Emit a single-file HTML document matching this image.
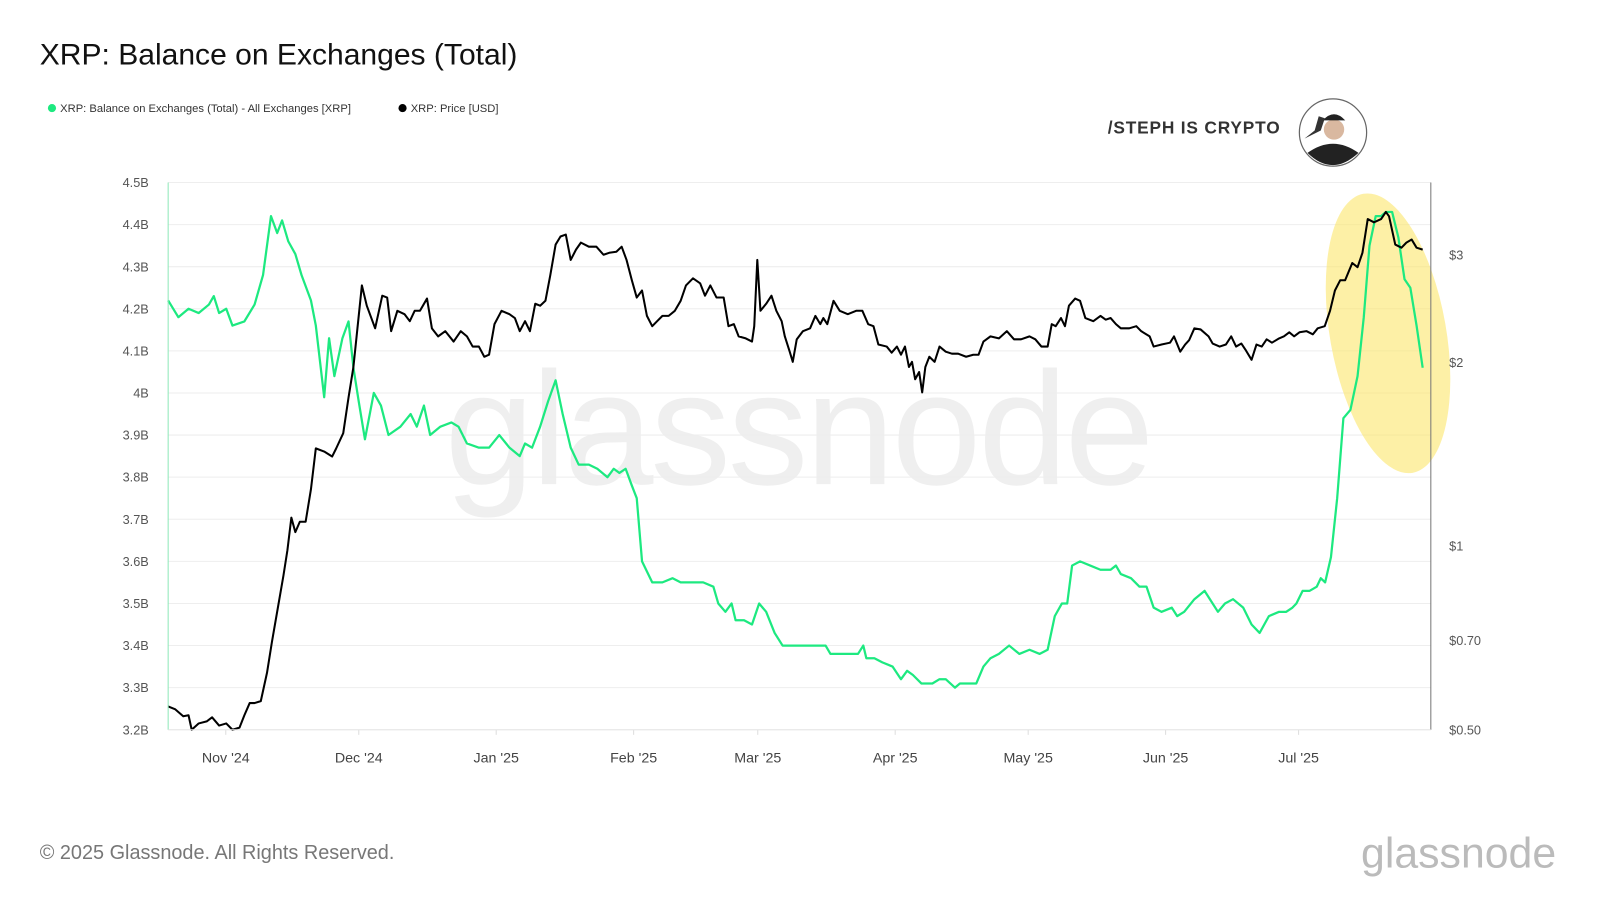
<!DOCTYPE html>
<html><head><meta charset="utf-8"><title>XRP: Balance on Exchanges (Total)</title>
<style>html,body{margin:0;padding:0;background:#fff;}svg{display:block;font-family:"Liberation Sans",sans-serif;}</style>
</head><body>
<svg id="chart" width="1600" height="900" viewBox="0 0 1570 883" xmlns="http://www.w3.org/2000/svg">
<rect width="1570" height="883" fill="#fff"/>
<text x="783" y="475" font-size="158" fill="#efefef" text-anchor="middle" letter-spacing="-3">glassnode</text>
<text x="39" y="63" font-size="29.5" fill="#111">XRP: Balance on Exchanges (Total)</text>
<g>
<circle cx="51" cy="106" r="4" fill="#1de980"/>
<text x="59" y="110" font-size="11" fill="#333">XRP: Balance on Exchanges (Total) - All Exchanges [XRP]</text>
<circle cx="395" cy="106" r="4" fill="#000"/>
<text x="403" y="110" font-size="11" fill="#333">XRP: Price [USD]</text>
</g>
<g>
<text x="1087" y="131" font-size="17" font-weight="bold" fill="#333" letter-spacing="0.8">/STEPH IS CRYPTO</text>
<circle cx="1308" cy="130" r="33" fill="#fff" stroke="#666" stroke-width="1.2"/>
<path d="M1283,150 Q1308,132 1333,150 Q1320,162 1308,162 Q1295,162 1283,150Z" fill="#222"/>
<circle cx="1309" cy="127" r="10" fill="#d9b8a0"/>
<path d="M1298,118 Q1309,106 1320,118Z" fill="#222"/>
<path d="M1280,136 L1296,128 L1300,116 L1294,114 L1290,128 Z" fill="#333"/>
</g>
<g id="grid"></g>
<ellipse cx="1362" cy="327" rx="57" ry="139" transform="rotate(-10 1362 327)" fill="#fbe66a" fill-opacity="0.6"/>
<g id="series"></g>
<g id="axes"></g>
<text x="39" y="843" font-size="19.5" fill="#777">© 2025 Glassnode. All Rights Reserved.</text>
<text x="1527" y="851" font-size="42" fill="#bbb" text-anchor="end">glassnode</text>
</svg>
<script>
const xMonthLabels = ["Nov '24","Dec '24","Jan '25","Feb '25","Mar '25","Apr '25","May '25","Jun '25","Jul '25"];
const xMonthDays = [13,43,74,105,133,164,194,225,255];
const leftTicks = [3.2,3.3,3.4,3.5,3.6,3.7,3.8,3.9,4.0,4.1,4.2,4.3,4.4,4.5];
const leftTickLabels = ["3.2B","3.3B","3.4B","3.5B","3.6B","3.7B","3.8B","3.9B","4B","4.1B","4.2B","4.3B","4.4B","4.5B"];
const rightTicks = [0.5,0.7,1,2,3];
const rightTickLabels = ["$0.50","$0.70","$1","$2","$3"];
const balanceDays = [0,2.3,4.6,6.9,9.2,10.3,11.5,13.1,14.5,17.2,19.5,21.4,23.2,24.6,25.7,27.1,28.7,30.1,32.2,33.3,35.2,36.3,37.5,39.3,40.7,41.8,43,44.4,46.4,48,49.7,52.4,54.7,56.1,57.7,59.1,61.4,63.9,65.5,67.4,70.1,72.4,74.7,77,79.3,80.5,82.1,83.9,85.7,87.4,89,90.8,92.6,94.9,96.8,99.1,100.5,101.8,103.2,104.6,105.7,106.9,109.2,111.5,113.8,115.6,118.4,120.7,123,124.1,125.7,127.1,128,129.9,131.7,133.3,134.9,136.8,138.6,140.9,142.8,144.4,146,148.3,149.4,151.7,154,155.6,156.8,157.5,159.3,161.1,163.4,165.3,166.7,168,169.9,172.4,174,175.4,177.5,178.6,180.5,182.3,183.9,185.5,187.4,189.7,192,194.3,196.6,198.4,200,201.6,202.8,203.9,205.7,208,210.3,212.6,213.8,214.9,217.2,219.1,220.7,222.3,224.1,226.4,227.6,229.2,231.5,233.8,235.6,236.8,238.4,240.2,242.5,244.4,246.2,248.3,250.6,252.2,253.6,254.5,255.9,257.5,259.1,260,261,262.3,263.7,265.1,266.7,268.3,269.7,271,272.4,273.6,274.7,276.1,277.5,278.9,280.2,281.6,283];
const balanceValues = [4.22,4.18,4.2,4.19,4.21,4.23,4.19,4.2,4.16,4.17,4.21,4.28,4.42,4.38,4.41,4.36,4.33,4.28,4.22,4.16,3.99,4.13,4.04,4.13,4.17,4.06,3.98,3.89,4.0,3.97,3.9,3.92,3.95,3.92,3.97,3.9,3.92,3.93,3.92,3.88,3.87,3.87,3.9,3.87,3.85,3.88,3.87,3.92,3.98,4.03,3.95,3.87,3.83,3.83,3.82,3.8,3.82,3.81,3.82,3.78,3.75,3.6,3.55,3.55,3.56,3.55,3.55,3.55,3.54,3.5,3.48,3.5,3.46,3.46,3.45,3.5,3.48,3.43,3.4,3.4,3.4,3.4,3.4,3.4,3.38,3.38,3.38,3.38,3.4,3.37,3.37,3.36,3.35,3.32,3.34,3.33,3.31,3.31,3.32,3.32,3.3,3.31,3.31,3.31,3.35,3.37,3.38,3.4,3.38,3.39,3.38,3.39,3.47,3.5,3.5,3.59,3.6,3.59,3.58,3.58,3.59,3.57,3.56,3.54,3.54,3.49,3.48,3.49,3.47,3.48,3.51,3.53,3.5,3.48,3.5,3.51,3.49,3.45,3.43,3.47,3.48,3.48,3.49,3.5,3.53,3.53,3.54,3.56,3.55,3.61,3.75,3.94,3.96,4.04,4.18,4.35,4.42,4.42,4.43,4.43,4.37,4.27,4.25,4.16,4.06];
const priceDays = [0,1.6,3.4,4.6,5.3,6.9,8.7,9.9,11.5,13.1,14.5,16.1,17.2,18.4,19.5,20.9,22.3,23.4,24.6,26,26.9,27.8,28.7,29.7,31,32.2,33.3,35.2,37,37.9,39.5,40.7,41.8,43,43.7,44.8,46.7,48.3,49.4,50.3,51.7,53.3,54.5,55.6,56.8,58.4,59.5,60.9,62.5,64.4,66,67.4,68.7,70.1,71.3,72.4,73.6,75.2,77,78.2,79.3,80.5,81.6,82.8,83.9,85.1,86.2,87.4,88.5,89.7,90.8,92,93.1,94.9,96.6,98.2,99.5,101.1,102.3,103.4,104.6,105.7,106.9,108,109.2,110.3,111.5,112.9,114.3,115.6,116.8,118.4,120,121.1,122.3,123.7,125.3,126.4,127.6,128.7,130.3,131.7,132.2,132.9,133.6,134.9,136.1,137.2,138.4,139.1,140.2,140.9,141.8,143.2,144.8,146,147.1,147.8,148.7,150.1,151.5,153.3,155.2,156.6,157.9,159.1,160.2,162.1,163.2,164.4,165.3,166.2,167.1,167.8,168.5,169.4,170.1,170.8,171.7,172.9,174,175.4,176.8,178.2,180,181.6,182.8,183.9,185.5,187.4,189.2,190.8,192.4,194.3,195.6,197,198.4,199.3,200.2,201.4,202.3,203.2,204.6,205.7,206.9,208.7,210.3,211.5,212.6,213.8,214.9,216.8,218.4,219.5,221.4,222.3,224.1,226,226.9,228.3,229.4,230.3,231.5,232.9,234.7,235.6,237.2,238.6,239.8,240.9,242.1,243,244.4,245.5,246.7,247.8,249,250.6,251.7,252.9,254,255.2,256.8,258.2,259.3,260.9,262.1,263.2,264.4,265.5,267.1,268.3,269.4,270.6,272,273.6,274.7,275.4,276.8,278.2,279.3,280.5,281.6,283];
const priceValues = [0.546,0.54,0.526,0.528,0.5,0.512,0.516,0.524,0.508,0.512,0.5,0.504,0.528,0.553,0.553,0.557,0.62,0.696,0.781,0.894,0.984,1.113,1.054,1.096,1.096,1.239,1.446,1.429,1.402,1.446,1.531,1.752,1.966,2.384,2.675,2.477,2.275,2.573,2.555,2.25,2.43,2.4,2.337,2.43,2.43,2.545,2.275,2.207,2.25,2.164,2.25,2.207,2.123,2.123,2.043,2.059,2.311,2.43,2.4,2.365,2.25,2.337,2.25,2.496,2.477,2.524,2.78,3.12,3.217,3.241,2.945,3.061,3.143,3.095,3.095,3.003,3.025,3.037,3.095,2.945,2.727,2.555,2.624,2.384,2.293,2.337,2.384,2.384,2.43,2.524,2.675,2.748,2.696,2.573,2.675,2.555,2.555,2.293,2.311,2.207,2.19,2.164,2.293,2.945,2.43,2.496,2.573,2.43,2.337,2.207,2.083,2.004,2.182,2.25,2.275,2.384,2.311,2.365,2.311,2.524,2.43,2.4,2.43,2.43,2.311,2.293,2.14,2.123,2.075,2.123,2.059,2.123,1.966,2.004,1.877,1.929,1.786,1.966,2.043,2.004,2.123,2.083,2.067,2.067,2.043,2.059,2.059,2.164,2.207,2.19,2.25,2.182,2.182,2.207,2.182,2.123,2.123,2.311,2.293,2.365,2.293,2.477,2.545,2.524,2.365,2.337,2.384,2.35,2.365,2.311,2.275,2.275,2.293,2.25,2.207,2.123,2.14,2.155,2.207,2.083,2.14,2.175,2.275,2.265,2.207,2.148,2.123,2.14,2.207,2.123,2.148,2.1,2.02,2.14,2.123,2.182,2.155,2.19,2.207,2.241,2.207,2.241,2.25,2.224,2.275,2.293,2.43,2.624,2.727,2.727,2.911,2.865,3.025,3.435,3.394,3.435,3.529,3.472,3.12,3.083,3.143,3.18,3.083,3.061];

const NS = "http://www.w3.org/2000/svg";
const PL = 165, PR = 1404, PT = 179, PB = 716;
const xScale = d => PL + d * 4.35;
const yLeft = v => PB - (v - 3.2) / (4.5 - 3.2) * (PB - PT);
const yRight = p => PB - 260 * Math.log(p / 0.5);
function mk(tag, attrs, parent) {
  const el = document.createElementNS(NS, tag);
  for (const k in attrs) el.setAttribute(k, attrs[k]);
  parent.appendChild(el);
  return el;
}
const grid = document.getElementById('grid');
const axes = document.getElementById('axes');
const series = document.getElementById('series');

leftTicks.forEach((v, i) => {
  const y = yLeft(v);
  const gl = mk('line', {x1: PL, x2: PR, y1: y, y2: y, stroke: '#eeeeee', 'stroke-width': 1}, grid);
  
  
  const t = mk('text', {x: 146, y: y + 4.5, 'font-size': 12.5, fill: '#555', 'text-anchor': 'end'}, axes);
  t.textContent = leftTickLabels[i];
  
  
});
rightTicks.forEach((p, i) => {
  const t = mk('text', {x: 1422, y: yRight(p) + 4.5, 'font-size': 12.5, fill: '#555'}, axes);
  t.textContent = rightTickLabels[i];
  
  
});
xMonthDays.forEach((d, i) => {
  const x = xScale(d);
  const tk = mk('line', {x1: x, x2: x, y1: PB, y2: PB + 5, stroke: '#ddd'}, axes);
  
  
  const t = mk('text', {x: x, y: 748, 'font-size': 14, fill: '#444', 'text-anchor': 'middle'}, axes);
  t.textContent = xMonthLabels[i];
  
  
});
const la = mk('line', {x1: PL, x2: PL, y1: PT, y2: PB, stroke: '#8fe8b8', 'stroke-width': 1}, axes);


const ra = mk('line', {x1: PR, x2: PR, y1: PT, y2: PB, stroke: '#777', 'stroke-width': 1}, axes);


const ba = mk('line', {x1: PL, x2: PR, y1: PB, y2: PB, stroke: '#e6e6e6', 'stroke-width': 1}, axes);



const gPts = balanceDays.map((d, i) => xScale(d).toFixed(1) + ',' + yLeft(balanceValues[i]).toFixed(1)).join(' ');
const gLine = mk('polyline', {points: gPts, fill: 'none', stroke: '#1de980', 'stroke-width': 2.2, 'stroke-linejoin': 'round'}, series);


const pPts = priceDays.map((d, i) => xScale(d).toFixed(1) + ',' + yRight(priceValues[i]).toFixed(1)).join(' ');
const pLine = mk('polyline', {points: pPts, fill: 'none', stroke: '#000', 'stroke-width': 2, 'stroke-linejoin': 'round'}, series);


</script>
</body></html>
